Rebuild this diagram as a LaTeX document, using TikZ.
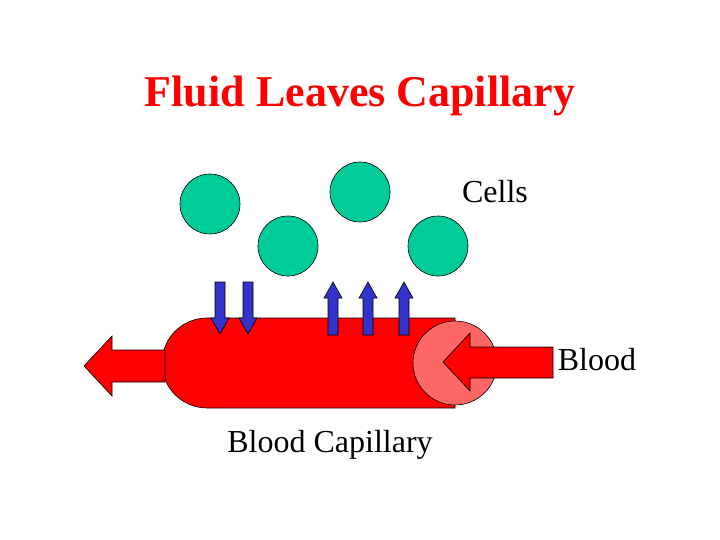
\documentclass[tikz,border=0pt]{standalone}
\usepackage{fontspec}
\setmainfont{Liberation Serif}
\definecolor{cellg}{RGB}{0,204,153}
\definecolor{capred}{RGB}{255,0,0}
\definecolor{capend}{RGB}{255,102,102}
\definecolor{arblue}{RGB}{51,51,204}
\begin{document}
\begin{tikzpicture}[x=1pt,y=-1pt,
  cell/.style={fill=cellg,draw=black,line width=0.6pt},
  redshape/.style={fill=capred,draw=black,line width=0.6pt},
  bluearrow/.style={fill=arblue,draw=black,line width=0.6pt},
  lbl/.style={font=\fontsize{32}{34}\selectfont,inner sep=0pt}]
\useasboundingbox (0,0) rectangle (720,540);
\node[inner sep=0pt,text=capred,font=\fontsize{44}{46}\bfseries\selectfont] (title) at (360,96) {Fluid Leaves Capillary};
\node[cell,circle,minimum size=60pt,inner sep=0pt] (c1) at (210,204) {};
\node[cell,circle,minimum size=60pt,inner sep=0pt] (c2) at (288,246) {};
\node[cell,circle,minimum size=60pt,inner sep=0pt] (c3) at (360,192) {};
\node[cell,circle,minimum size=60pt,inner sep=0pt] (c4) at (438,246) {};
\node[lbl] (cells) at (495,192) {Cells};
% capillary body
\draw[redshape] (455,318) -- (207,318) arc[start angle=270,end angle=90,radius=45] -- (455,408) -- cycle;
\draw[fill=capend,draw=black,line width=0.6pt] (455,363) circle[radius=42];
% left arrow
\draw[redshape] (84,366) -- (112,336) -- (112,350) -- (165,350) -- (165,382) -- (112,382) -- (112,396) -- cycle;
% right arrow inside
\draw[redshape] (443,362) -- (470,333) -- (470,347) -- (553,347) -- (553,378) -- (470,378) -- (470,391) -- cycle;
\node[lbl] (blood) at (597,360) {Blood};
\node[lbl] (bc) at (330,445) {Blood Capillary};
% blue arrows down
\foreach \x in {220,248}{
  \draw[bluearrow] (\x-5,282) -- (\x+5,282) -- (\x+5,318) -- (\x+9,318) -- (\x,334) -- (\x-9,318) -- (\x-5,318) -- cycle;}
\foreach \x in {333,368,404}{
  \draw[bluearrow] (\x-5,335) -- (\x+5,335) -- (\x+5,298) -- (\x+9,298) -- (\x,282) -- (\x-9,298) -- (\x-5,298) -- cycle;}
\end{tikzpicture}
\end{document}
